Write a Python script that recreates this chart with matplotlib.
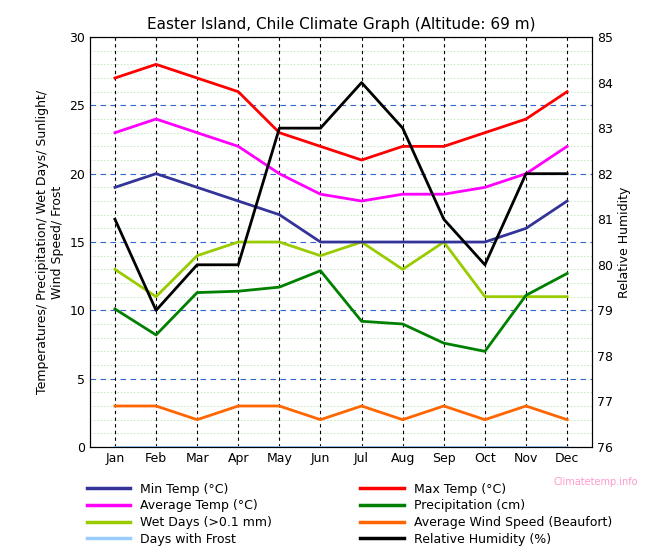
import matplotlib
matplotlib.use("Agg")
import matplotlib.pyplot as plt
from matplotlib.lines import Line2D

months = ["Jan","Feb","Mar","Apr","May","Jun","Jul","Aug","Sep","Oct","Nov","Dec"]
min_temp = [19,20,19,18,17,15,15,15,15,15,16,18]
max_temp = [27,28,27,26,23,22,21,22,22,23,24,26]
avg_temp = [23,24,23,22,20,18.5,18,18.5,18.5,19,20,22]
precip = [10.1,8.2,11.3,11.4,11.7,12.9,9.2,9.0,7.6,7.0,11.1,12.7]
wet_days = [13,11,14,15,15,14,15,13,15,11,11,11]
wind = [3,3,2,3,3,2,3,2,3,2,3,2]
frost = [0]*12
humidity = [81,79,80,80,83,83,84,83,81,80,82,82]

fig = plt.figure(figsize=(6.59,5.57), dpi=100)
ax = fig.add_axes([0.137,0.1975,0.761,0.736])
x = list(range(12))
for v in range(31):
    if v % 5 == 0:
        ax.axhline(v, color="#3366cc", ls=(0,(5,4)), lw=0.8, zorder=0)
    else:
        ax.axhline(v, color="#bfe8bf", ls=(0,(2,2)), lw=0.6, zorder=0)
for xi in x:
    ax.axvline(xi, color="black", ls=(0,(3,3)), lw=0.8, zorder=0)

ax.plot(x, frost, color="#99ccff", lw=2)
ax.plot(x, wind, color="#ff6600", lw=2)
ax.plot(x, wet_days, color="#99cc00", lw=2)
ax.plot(x, precip, color="#008000", lw=2)
ax.plot(x, min_temp, color="#333399", lw=2)
ax.plot(x, avg_temp, color="#ff00ff", lw=2)
ax.plot(x, max_temp, color="#ff0000", lw=2)
ax.set_xlim(-0.6, 11.6)
ax.set_ylim(0,30)
ax.set_xticks(x)
ax.set_xticklabels(months, fontsize=9)
ax.tick_params(labelsize=9, length=0)
ax.set_ylabel("Temperatures/ Precipitation/ Wet Days/ Sunlight/\nWind Speed/ Frost", fontsize=9)
ax2 = ax.twinx()
ax2.plot(x, humidity, color="black", lw=2)
ax2.set_ylim(76,85)
ax2.set_yticks(range(76,86))
ax2.tick_params(labelsize=9, length=0)
ax2.set_ylabel("Relative Humidity", fontsize=9)
ax.set_title("Easter Island, Chile Climate Graph (Altitude: 69 m)", fontsize=11)

colors = ["#333399","#ff00ff","#99cc00","#99ccff","#ff0000","#008000","#ff6600","black"]
labels = ["Min Temp (°C)","Average Temp (°C)","Wet Days (>0.1 mm)","Days with Frost",
          "Max Temp (°C)","Precipitation (cm)","Average Wind Speed (Beaufort)","Relative Humidity (%)"]
handles = [Line2D([],[],color=c,lw=2.5) for c in colors]
fig.legend(handles, labels, ncol=2, loc="lower center", bbox_to_anchor=(0.53,0.0),
           frameon=False, fontsize=9, handlelength=3.5, columnspacing=7, labelspacing=0.3)
fig.text(0.84,0.13,"Climatetemp.info", color="#ff99cc", fontsize=7)
fig.savefig("out.png", dpi=100)
